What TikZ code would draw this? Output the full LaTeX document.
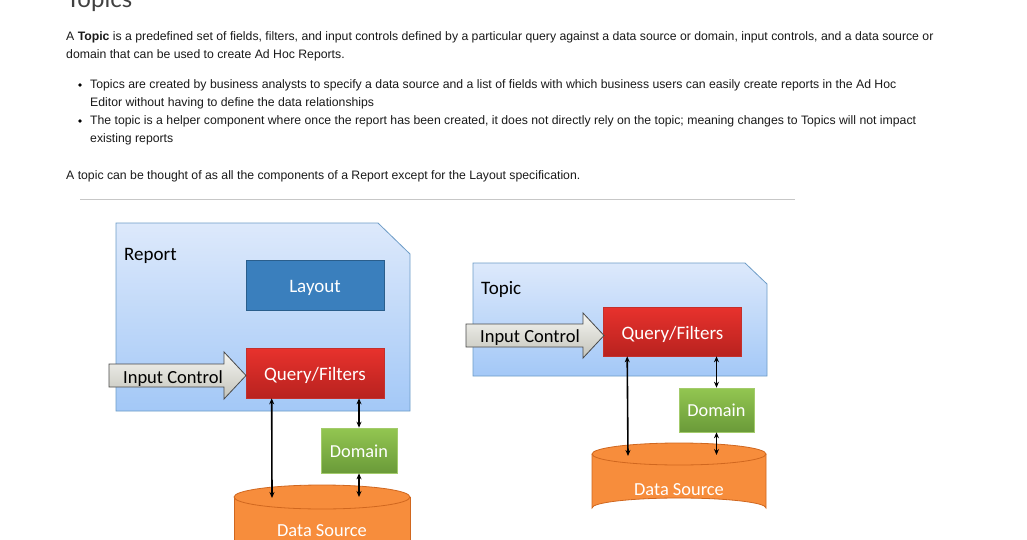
\documentclass[tikz,border=0pt]{standalone}
\usepackage{fontspec}
\setmainfont{Liberation Sans}
\newfontfamily\carl{Carlito}
\newfontfamily\latof{Lato}
\usetikzlibrary{calc,arrows.meta}
\definecolor{boxtop}{HTML}{DDE9FB}
\definecolor{boxbot}{HTML}{A3C8F7}
\definecolor{boxline}{HTML}{6D9CC7}
\definecolor{laybl}{HTML}{3A7FBD}
\definecolor{laybd}{HTML}{2A5E8C}
\definecolor{redtop}{HTML}{E8322D}
\definecolor{redbot}{HTML}{B8221F}
\definecolor{redline}{HTML}{C4302B}
\definecolor{grtop}{HTML}{93C651}
\definecolor{grbot}{HTML}{6A9A39}
\definecolor{grline}{HTML}{A3CB6B}
\definecolor{orfill}{HTML}{F78D3C}
\definecolor{orline}{HTML}{D0671F}
\definecolor{ictop}{HTML}{F6F6F2}
\definecolor{icbot}{HTML}{C3C3BA}
\definecolor{icline}{HTML}{4A4A4A}
\definecolor{bodytext}{HTML}{1A1A1A}
\newcommand{\dn}[2]{\raisebox{-#1pt}[0pt][0pt]{#2}}
\tikzset{
  para/.style={anchor=base west, inner sep=0pt, text=bodytext, font=\fontsize{12.25}{14}\selectfont},
  container/.style={top color=boxtop, bottom color=boxbot, draw=boxline, line width=0.8pt},
  ctitle/.style={anchor=base west, inner sep=0pt, font=\carl\fontsize{19}{21}\selectfont},
  layoutbox/.style={fill=laybl, draw=laybd, line width=1pt, text=white, minimum width=138pt, minimum height=50pt, inner sep=0pt, font=\carl\fontsize{19}{21}\selectfont},
  qfbox/.style={top color=redtop, bottom color=redbot, draw=redline, line width=0.6pt, text=white, minimum width=138pt, minimum height=50pt, inner sep=0pt, font=\carl\fontsize{19}{21}\selectfont},
  dombox/.style={top color=grtop, bottom color=grbot, draw=grline, line width=0.6pt, text=white, minimum width=76pt, minimum height=45pt, inner sep=0pt, font=\carl\fontsize{18.3}{20}\selectfont},
  icarrow/.style={top color=ictop, bottom color=icbot, draw=icline, line width=0.8pt},
  iclabel/.style={inner sep=0pt, font=\carl\fontsize{18.5}{20}\selectfont},
  dslabel/.style={inner sep=0pt, text=white, font=\carl\fontsize{18.4}{20}\selectfont},
  cyl/.style={fill=orfill, draw=orline, line width=0.8pt},
  link/.style={{Stealth[length=6pt,width=5pt]}-{Stealth[length=6pt,width=5pt]}, line width=1.6pt, black},
}
\begin{document}
\begin{tikzpicture}[x=1pt,y=-1pt]
\useasboundingbox (0,0) rectangle (1027,540);
\fill[white] (0,0) rectangle (1027,540);
% heading
\node[anchor=base west, inner sep=0pt, text=black!75, font=\latof\fontsize{24}{26}\selectfont] (head) at (66,8) {Topics};
% paragraph text
\node[para] (p1) at (66,41) {A \textbf{Topic} is a predefined set of fields, filters, and input controls defined by a particular query against a data source or domain, input controls, and a data source or};
\node[para] (p2) at (66,59) {domain that can be used to create Ad Hoc Reports.};
\node[para] (b1a) at (90,89) {Topics are created by business analysts to specify a data source and a list of fields with which business users can easily create reports in the Ad Hoc};
\node[para] (b1b) at (90,107) {Editor without having to define the data relationships};
\node[para] (b2a) at (90,125) {The topic is a helper component where once the report has been created, it does not directly rely on the topic; meaning changes to Topics will not impact};
\node[para] (b2b) at (90,143) {existing reports};
\fill[black] (80,85) circle (1.8);
\fill[black] (80,121) circle (1.8);
\node[para] (p3) at (66,179) {A topic can be thought of as all the components of a Report except for the Layout specification.};
\draw[black!22, line width=1pt] (80,199.5) -- (795,199.5);

% ===== Report side =====
\shade[container] (116,223) -- (378,223) -- (410,254) -- (410,411) -- (116,411) -- cycle;
\node[ctitle] (rep) at (124,260) {Report};
\node[layoutbox] (lay) at (315,285) {\dn{7}{Layout}};
\node[qfbox] (qf1) at (315,373) {\dn{7.5}{Query/Filters}};
\shade[icarrow] (109,364) -- (224,364) -- (224,352) -- (246,375.5) -- (224,399) -- (224,387) -- (109,387) -- cycle;
\node[iclabel] (ic1) at (173,376.5) {\dn{6.5}{Input Control}};
\node[dombox] (dom1) at (359,450.5) {\dn{6.5}{Domain}};
% cylinder
\coordinate (ds1t) at (322,497);
\fill[orfill] (234,497) -- (234,545) -- (410,545) -- (410,497) -- cycle;
\draw[orline, line width=0.8pt] (234,497) -- (234,545) (410,497) -- (410,545);
\draw[cyl] (ds1t) ellipse (88 and 12);
\node[dslabel] (ds1) at (322,530) {\dn{6.5}{Data Source}};
\draw[link] ($(qf1.south west)+(26,0)$) -- ($(ds1t)+(-50,1)$);
\draw[link] (qf1.south -| dom1) -- (dom1.north);
\draw[link] (dom1.south) -- ($(ds1t)+(37,0)$);

% ===== Topic side =====
\shade[container] (473,263) -- (745,263) -- (767,284) -- (767,376) -- (473,376) -- cycle;
\node[ctitle] (top) at (481,294) {Topic};
\node[qfbox, minimum height=49pt] (qf2) at (672.5,331.5) {\dn{7.5}{Query/Filters}};
\shade[icarrow] (466,324) -- (583,324) -- (583,313) -- (604,335.5) -- (583,358) -- (583,347) -- (466,347) -- cycle;
\node[iclabel] (ic2) at (530,336) {\dn{6.5}{Input Control}};
\node[dombox, minimum width=75pt, minimum height=44pt] (dom2) at (716.5,410) {\dn{6.5}{Domain}};
\coordinate (ds2t) at (679,454);
\fill[orfill] (592,454) -- (592,508) arc[start angle=180, end angle=360, x radius=87, y radius=10] -- (766,454) -- cycle;
\draw[orline, line width=0.8pt] (592,454) -- (592,508) arc[start angle=180, end angle=360, x radius=87, y radius=10] -- (766,454);
\draw[cyl] (ds2t) ellipse (87 and 11);
\node[dslabel] (ds2) at (679,489) {\dn{6.5}{Data Source}};
\draw[link] ($(qf2.south west)+(24,0)$) -- ($(ds2t)+(-51,2)$);
\draw[link] (qf2.south -| dom2) -- (dom2.north);
\draw[link] (dom2.south) -- ($(ds2t)+(37.5,1)$);
\end{tikzpicture}
\end{document}
